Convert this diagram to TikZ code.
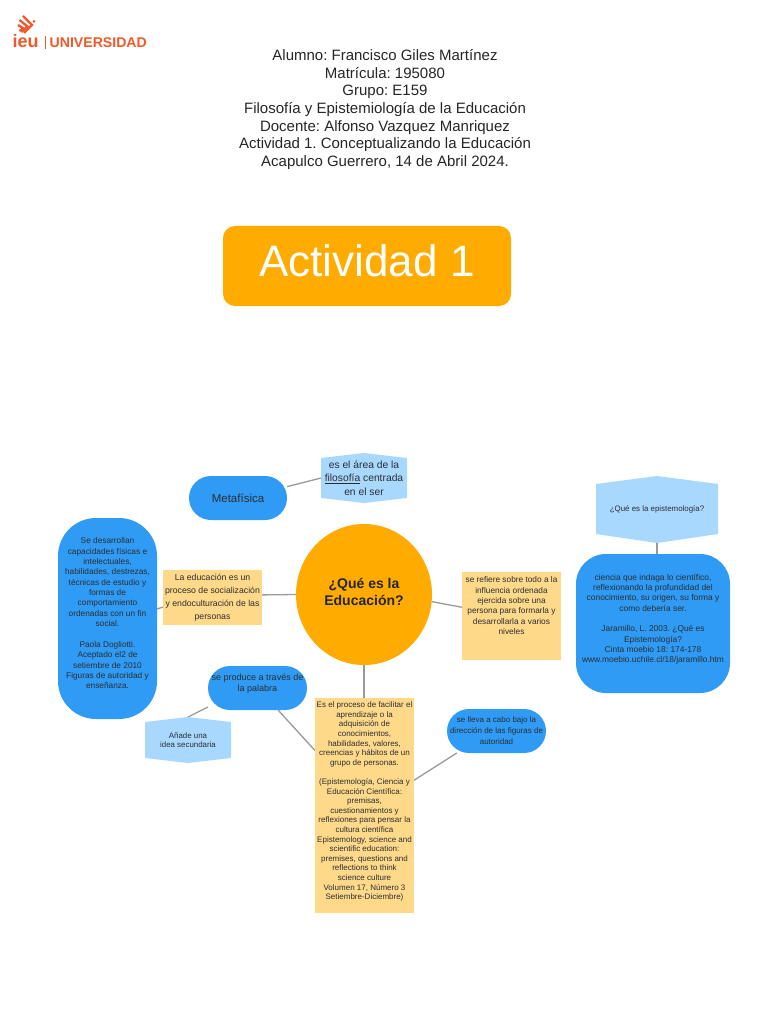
\documentclass[tikz,border=0pt]{standalone}
\usepackage{fontspec}
\setmainfont{Liberation Sans}
\usetikzlibrary{calc,shapes.geometric}
\pgfdeclarelayer{bg}
\pgfsetlayers{bg,main}
\definecolor{cblue}{HTML}{2F9BF4}
\definecolor{cyellow}{HTML}{FFD98A}
\definecolor{chex}{HTML}{A9D8FF}
\definecolor{corange}{HTML}{FFAB00}
\definecolor{clogo}{HTML}{F0592A}
\definecolor{cline}{HTML}{9A9A9A}
\definecolor{ctext}{HTML}{2A2E33}
\tikzset{
  base/.style={inner sep=0pt,outer sep=0pt,align=center,text=ctext},
  pill/.style={base,fill=cblue,rounded corners=#1},
  note/.style={base,fill=cyellow},
  hexbox/.style={base},
  link/.style={draw=cline,line width=1.3pt},
  small/.style={font=\fontsize{8.3}{10.35}\selectfont},
  header/.style={inner sep=0pt,align=center,text=black!85,font=\fontsize{15}{17.7}\selectfont},
}
\newcommand{\hexnode}[9]{% name, x1, x2, ytop, yshoulder, yshoulder2, ybottom, font, text
  \fill[chex] ({#2},{#5}) -- ({(#2+#3)/2},{#4}) -- ({#3},{#5}) -- ({#3},{#6}) -- ({(#2+#3)/2},{#7}) -- ({#2},{#6}) -- cycle;
  \node[hexbox,font=#8,minimum width={(#3-#2)*1pt},minimum height={(#7-#4)*1pt}] (#1) at ({(#2+#3)/2},{(#4+#7)/2}) {#9};
}
\begin{document}
\frenchspacing
\begin{tikzpicture}[x=1pt,y=-1pt]
\useasboundingbox (0,0) rectangle (768,1024);
% logo
\node[inner sep=0pt,anchor=base west,text=clogo,font=\fontsize{18}{18}\selectfont\bfseries] (logoieu) at (12.5,48) {ieu};
\node[inner sep=0pt,anchor=base west,text=clogo,font=\fontsize{14.1}{14.1}\selectfont\bfseries] (logotext) at (49.5,48) {UNIVERSIDAD};
\fill[clogo] (44.6,36) rectangle (45.6,49);
\begin{scope}[clogo,line width=2.3pt]
  \draw (23,16) -- (32,25) -- (24,33);
  \draw (19.5,20) -- (27.5,26.5) -- (21.5,32);
  \draw (18,25) -- (23.5,28.5) -- (19.5,31);
  \fill (34,21.5) circle (1.5);
\end{scope}
% header
\node[header] (head) at (385,109.5) {Alumno: Francisco Giles Martínez\\
Matrícula: 195080\\
Grupo: E159\\
Filosofía y Epistemiología de la Educación\\
Docente: Alfonso Vazquez Manriquez\\
Actividad 1. Conceptualizando la Educación\\
Acapulco Guerrero, 14 de Abril 2024.};
% title
\node[base,fill=corange,rounded corners=12pt,minimum width=288pt,minimum height=80pt,text=white,text depth=10pt,font=\fontsize{44}{44}\selectfont] (title) at (367,266) {Actividad 1};
% centre
\node[base,ellipse,fill=corange,minimum width=136pt,minimum height=141pt,text=black!85,text depth=5pt,font=\fontsize{14}{17.5}\selectfont\bfseries] (centre) at (364,594.5) {¿Qué es la\\Educación?};
% blue
\node[pill=22pt,minimum width=98pt,minimum height=44pt,font=\fontsize{11.5}{14}\selectfont] (meta) at (238,498) {Metafísica};
\node[pill=38pt,small,minimum width=99pt,minimum height=201pt] (lblue) at (107.5,618.5) {Se desarrollan\\capacidades físicas e\\intelectuales,\\habilidades, destrezas,\\técnicas de estudio y\\formas de\\comportamiento\\ordenadas con un fin\\social.\\\mbox{}\\Paola Dogliotti.\\Aceptado el2 de\\setiembre de 2010\\Figuras de autoridad y\\enseñanza.\\\mbox{}};
\node[pill=22pt,font=\fontsize{9}{10.7}\selectfont,minimum width=99pt,minimum height=44pt] (palabra) at (257.5,688) {se produce a través de\\la palabra\\\mbox{}};
\node[pill=22pt,font=\fontsize{8}{11}\selectfont,minimum width=99pt,minimum height=44pt] (lleva) at (496.5,731) {se lleva a cabo bajo la\\dirección de las figuras de\\autoridad};
\node[pill=30pt,font=\fontsize{8.4}{10.35}\selectfont,minimum width=154pt,minimum height=139pt] (big) at (653,623.5) {ciencia que indaga lo científico,\\reflexionando la profundidad del\\conocimiento, su origen, su forma y\\como debería ser.\\\mbox{}\\Jaramillo, L. 2003. ¿Qué es\\Epistemología?\\Cinta moebio 18: 174-178\\www.moebio.uchile.cl/18/jaramillo.htm\\\mbox{}};
% yellow
\node[note,font=\fontsize{8.7}{13}\selectfont,minimum width=99pt,minimum height=55pt] (yleft) at (212.5,597.5) {La educación es un\\proceso de socialización\\y endoculturación de las\\personas};
\node[note,small,minimum width=99pt,minimum height=88pt] (yright) at (511.5,616) {se refiere sobre todo a la\\influencia ordenada\\ejercida sobre una\\persona para formarla y\\desarrollarla a varios\\niveles\\\mbox{}\\\mbox{}};
\node[note,font=\fontsize{8}{9.6}\selectfont,minimum width=99pt,minimum height=215pt] (ybottom) at (364.5,805.5) {Es el proceso de facilitar el\\aprendizaje o la\\adquisición de\\conocimientos,\\habilidades, valores,\\creencias y hábitos de un\\grupo de personas.\\\mbox{}\\(Epistemología, Ciencia y\\Educación Científica:\\premisas,\\cuestionamientos y\\reflexiones para pensar la\\cultura científica\\Epistemology, science and\\scientific education:\\premises, questions and\\reflections to think\\science culture\\Volumen 17, Número 3\\Setiembre-Diciembre)\\\mbox{}};
% hexagons
\hexnode{hextop}{321}{407}{453}{458}{498}{503}{\fontsize{10.3}{13.3}\selectfont}{es el área de la\\\underline{filosofía} centrada\\en el ser}
\hexnode{hexsmall}{145}{231}{717}{722}{758}{763}{\fontsize{7.9}{9.5}\selectfont}{Añade una\\idea secundaria}
\hexnode{epist}{596}{718}{476}{484}{534}{543}{\fontsize{7.9}{9.5}\selectfont}{¿Qué es la epistemología?}
% connectors
\begin{pgfonlayer}{bg}
\fill[white] (0,0) rectangle (768,1024);
\draw[link] (meta.13.8) -- (hextop.west);
\draw[link] (lblue.11) -- (yleft.191);
\draw[link] (yleft.3) -- (centre.west);
\draw[link] (centre.south) -- (centre.south |- ybottom.north);
\draw[link] (centre.-6.7) -- (yright.170.8);
\draw[link] (palabra.201.4) -- (hexsmall.north);
\draw[link] (palabra.-47) -- (ybottom.132.8);
\draw[link] (lleva.209.9) -- (ybottom.27.3);
\draw[link] (epist.south) -- (epist.south |- big.north);
\end{pgfonlayer}
\end{tikzpicture}
\end{document}
